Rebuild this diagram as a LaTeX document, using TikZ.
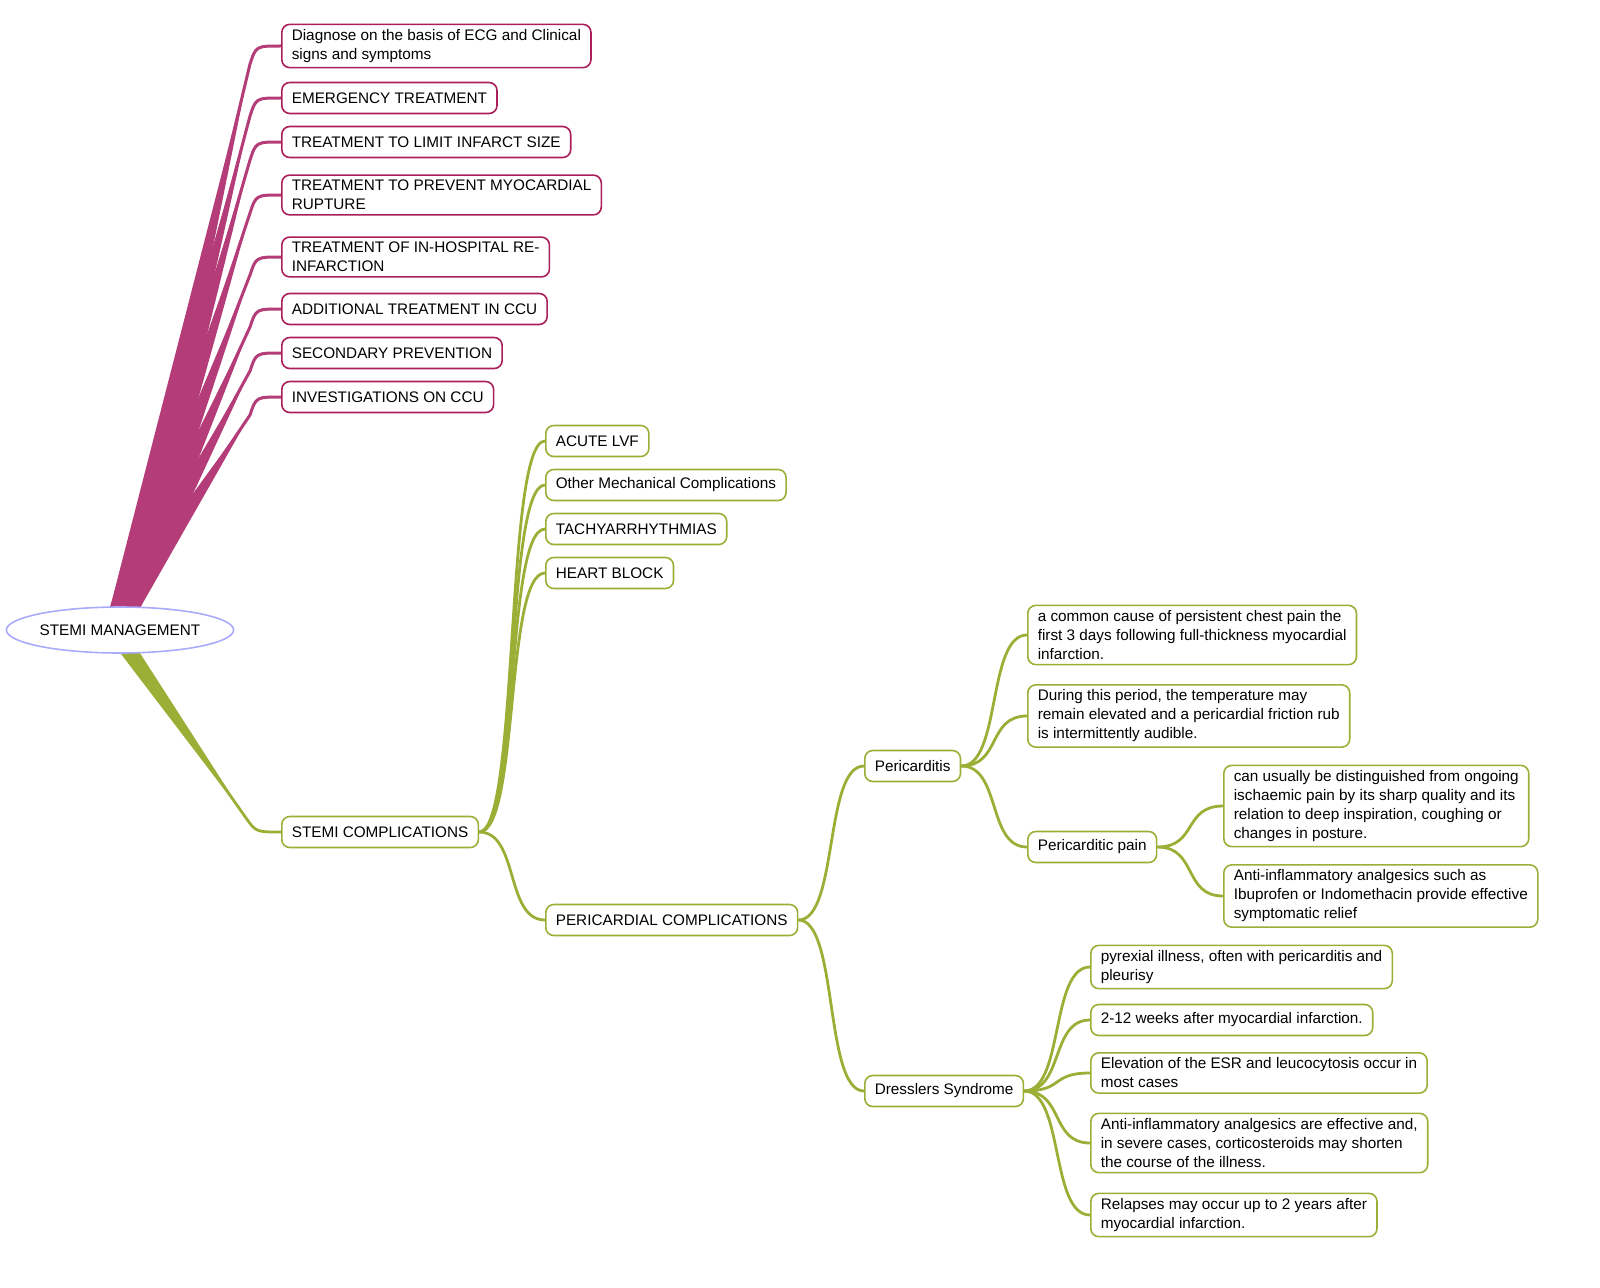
\documentclass[tikz,border=0pt]{standalone}
\usepackage{fontspec}
\setmainfont{Liberation Sans}
\usetikzlibrary{calc,shapes.geometric}
\definecolor{mag}{RGB}{170,30,90}
\definecolor{magl}{RGB}{180,60,120}
\definecolor{grn}{RGB}{155,175,55}
\definecolor{lav}{RGB}{170,170,250}
\tikzset{
 mbox/.style={draw=mag,line width=1.6pt,rounded corners=8pt,anchor=west,align=left,inner xsep=10pt,inner ysep=5pt,minimum height=31pt,font=\fontsize{15.3pt}{19pt}\selectfont},
 gbox/.style={mbox,draw=grn},
 gline/.style={draw=grn,line width=2.8pt},
 mline/.style={draw=magl,line width=3pt},
}
\newcommand\gconn[2]{\draw[gline] (#1.east) .. controls ($(#1.east)+(40,0)$) and ($(#2.west)+(-40,0)$) .. (#2.west);}
\newcommand\mconn[1]{\fill[magl] (110,608) -- ($(#1.west)+(-31,18)$) -- (140,608) -- cycle;
 \draw[mline] (120,608) -- ($(#1.west)+(-31,18)$) .. controls ($(#1.west)+(-25,0)$) .. (#1.west);}
\begin{document}
\begin{tikzpicture}[x=1pt,y=-1pt]
\node[gbox] (c) at (281,832) {STEMI COMPLICATIONS};
\node[mbox] (m1) at (281,46) {Diagnose on the basis of ECG and Clinical\\signs and symptoms};
\node[mbox] (m2) at (281,98) {EMERGENCY TREATMENT};
\node[mbox] (m3) at (281,142) {TREATMENT TO LIMIT INFARCT SIZE};
\node[mbox] (m4) at (281,195) {TREATMENT TO PREVENT MYOCARDIAL\\RUPTURE};
\node[mbox] (m5) at (281,257) {TREATMENT OF IN-HOSPITAL RE-\\INFARCTION};
\node[mbox] (m6) at (281,309) {ADDITIONAL TREATMENT IN CCU};
\node[mbox] (m7) at (281,353) {SECONDARY PREVENTION};
\node[mbox] (m8) at (281,397) {INVESTIGATIONS ON CCU};
\foreach \n in {m1,m2,m3,m4,m5,m6,m7,m8} {\mconn{\n}}
\fill[grn] (118,650) -- (246,818) -- (138,650) -- cycle;
\draw[gline] (128,650) -- (246,818) .. controls (256,832) .. (c.west);
\node[ellipse,draw=lav,line width=1.6pt,fill=white,minimum width=194pt,minimum height=46pt,inner sep=0pt,font=\fontsize{15.3pt}{19pt}\selectfont] (r) at (120,630) {STEMI MANAGEMENT};
\node[gbox] (a1) at (545,441) {ACUTE LVF};
\node[gbox] (a2) at (545,485) {Other Mechanical Complications};
\node[gbox] (a3) at (545,529) {TACHYARRHYTHMIAS};
\node[gbox] (a4) at (545,573) {HEART BLOCK};
\node[gbox] (pc) at (545,920) {PERICARDIAL COMPLICATIONS};
\node[gbox] (pt) at (864,766) {Pericarditis};
\node[gbox] (ds) at (864,1091) {Dresslers Syndrome};
\node[gbox] (p1) at (1027,635) {a common cause of persistent chest pain the\\first 3 days following full-thickness myocardial\\infarction.};
\node[gbox] (p2) at (1027,716) {During this period, the temperature may\\remain elevated and a pericardial friction rub\\is intermittently audible.};
\node[gbox] (pp) at (1027,847) {Pericarditic pain};
\node[gbox] (q1) at (1223,806) {can usually be distinguished from ongoing\\ischaemic pain by its sharp quality and its\\relation to deep inspiration, coughing or\\changes in posture.};
\node[gbox] (q2) at (1223,896) {Anti-inflammatory analgesics such as\\Ibuprofen or Indomethacin provide effective\\symptomatic relief};
\node[gbox] (d1) at (1090,967) {pyrexial illness, often with pericarditis and\\pleurisy};
\node[gbox] (d2) at (1090,1020) {2-12 weeks after myocardial infarction.};
\node[gbox] (d3) at (1090,1073) {Elevation of the ESR and leucocytosis occur in\\most cases};
\node[gbox] (d4) at (1090,1143) {Anti-inflammatory analgesics are effective and,\\in severe cases, corticosteroids may shorten\\the course of the illness.};
\node[gbox] (d5) at (1090,1215) {Relapses may occur up to 2 years after\\myocardial infarction.};
\foreach \n in {a1,a2,a3,a4,pc} {\gconn{c}{\n}}
\gconn{pc}{pt}\gconn{pc}{ds}
\foreach \n in {p1,p2,pp} {\gconn{pt}{\n}}
\gconn{pp}{q1}\gconn{pp}{q2}
\foreach \n in {d1,d2,d3,d4,d5} {\gconn{ds}{\n}}
\pgfresetboundingbox
\useasboundingbox (0,0) rectangle (1600,1287);
\end{tikzpicture}
\end{document}
